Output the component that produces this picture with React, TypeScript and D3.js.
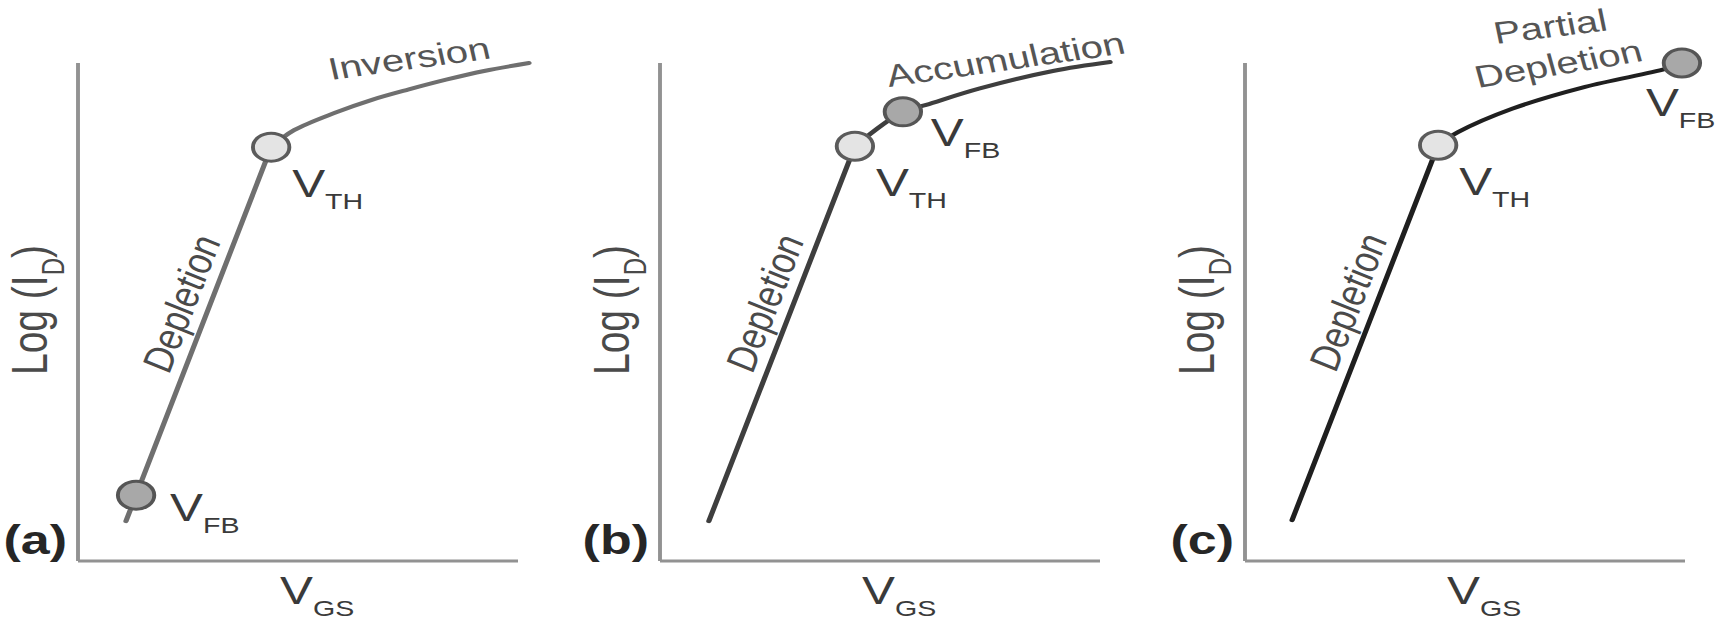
import React from 'react';
import * as d3 from 'd3';

// curve points in panel units: x = V_GS (0..100 along the axis), y = log(I_D) (0..100 up the axis)
const depletionA = [[10.9, 8.0], [43.9, 83.1]];
const inversionA = [[43.9, 83.1], [49.1, 86.5], [58.4, 90.0], [66.8, 92.6], [75.2, 94.7], [83.9, 96.7], [92.3, 98.4], [102.5, 100]];
const vthA = [43.9, 83.1];
const vfbA = [13.2, 13.2];

const depletionB = [[11.1, 8.0], [44.3, 83.3]];
const accumulationB = [[44.3, 83.3], [55.2, 90.2], [60.5, 91.6], [72.7, 94.9], [89.3, 98.4], [102.3, 100.2]];
const vthB = [44.3, 83.3];
const vfbB = [55.2, 90.2];

const depletionC = [[10.7, 8.2], [43.9, 83.5]];
const partialC = [[43.9, 83.5], [48.4, 86.1], [60.7, 90.8], [77.3, 95.2], [95.5, 98.8], [99.3, 100]];
const vthC = [43.9, 83.5];
const vfbC = [99.3, 100];

const panelTags = ['(a)', '(b)', '(c)'];
const regionLabels = [['Inversion'], ['Accumulation'], ['Partial', 'Depletion']];

const W = 1716;
const H = 619;
const SX = 1.3; // the source figure is stretched sideways
const AXIS_TOP = 63;
const AXIS_BOTTOM = 561;
const PANEL_W = 440;
const FONT = '"Liberation Sans", Arial, Helvetica, sans-serif';

const panels = [
  {
    ox: 78, depletion: depletionA, upper: inversionA, vth: vthA, vfb: vfbA,
    stroke: '#6f6f6f', vfbOff: [34, 25.5],
    region: [{ dx: 253, y: 80, a: -10 }],
  },
  {
    ox: 660, depletion: depletionB, upper: accumulationB, vth: vthB, vfb: vfbB,
    stroke: '#3e3e3e', vfbOff: [28, 34],
    region: [{ dx: 229, y: 87, a: -10.5 }],
  },
  {
    ox: 1245, depletion: depletionC, upper: partialC, vth: vthC, vfb: vfbC,
    stroke: '#1f1f1f', vfbOff: [-36, 53],
    region: [{ dx: 251, y: 44, a: -9 }, { dx: 233, y: 88, a: -12 }],
  },
];

const Sub = ({ main, sub, x, y }) => (
  <text x={x} y={y} fontSize={38} fill="#3a3a3a">
    {main}
    <tspan dy={12} fontSize={22}>{sub}</tspan>
  </text>
);

const Panel = ({ p, i }) => {
  const x = d3.scaleLinear().domain([0, 100]).range([0, PANEL_W / SX]);
  const y = d3.scaleLinear().domain([0, 100]).range([AXIS_BOTTOM, AXIS_TOP]);
  const straight = d3.line().x(d => x(d[0])).y(d => y(d[1]));
  const smooth = d3.line().x(d => x(d[0])).y(d => y(d[1])).curve(d3.curveCatmullRom.alpha(0.5));

  const [p0, p1] = p.depletion;
  const ang = Math.atan2(y(p1[1]) - y(p0[1]), x(p1[0]) - x(p0[0])) * 180 / Math.PI;
  const t = 0.565;
  const mx = x(p0[0]) + t * (x(p1[0]) - x(p0[0]));
  const my = y(p0[1]) + t * (y(p1[1]) - y(p0[1]));

  return (
    <g transform={`translate(${p.ox},0) scale(${SX},1)`} fontFamily={FONT}>
      {/* axes */}
      <line x1={0} y1={AXIS_TOP} x2={0} y2={AXIS_BOTTOM} stroke="#929292" strokeWidth={3} />
      <line x1={0} y1={AXIS_BOTTOM} x2={x(100)} y2={AXIS_BOTTOM} stroke="#929292" strokeWidth={3} />

      <text x={-11 / SX} y={554} fontSize={40} fontWeight="bold" fill="#262626" textAnchor="end">{panelTags[i]}</text>

      <text transform={`translate(${-31 / SX},${(AXIS_TOP + AXIS_BOTTOM) / 2 - 2}) rotate(-90)`} fontSize={39} fill="#4a4a4a" textAnchor="middle">
        Log (I<tspan dy={13} fontSize={24}>D</tspan><tspan dy={-13}>)</tspan>
      </text>

      <Sub main="V" sub="GS" x={202 / SX} y={604} />

      {/* curves */}
      <path d={straight(p.depletion)} fill="none" stroke={p.stroke} strokeWidth={4} strokeLinecap="round" />
      <path d={smooth(p.upper)} fill="none" stroke={p.stroke} strokeWidth={4} strokeLinecap="round" />

      <text transform={`translate(${mx},${my}) rotate(${ang})`} y={-10} fontSize={33} fontStyle="italic" fill="#4a4a4a" textAnchor="middle">Depletion</text>

      {regionLabels[i].map((s, k) => (
        <text key={s} transform={`translate(${p.region[k].dx / SX},${p.region[k].y}) rotate(${p.region[k].a})`} fontSize={31} fill="#555">{s}</text>
      ))}

      {/* markers */}
      <ellipse cx={x(p.vth[0])} cy={y(p.vth[1])} rx={14} ry={14} fill="#e4e4e4" stroke="#5b5b5b" strokeWidth={3} />
      <ellipse cx={x(p.vfb[0])} cy={y(p.vfb[1])} rx={14} ry={14} fill="#a8a8a8" stroke="#555" strokeWidth={3} />

      <Sub main="V" sub="TH" x={x(p.vth[0]) + 21 / SX} y={y(p.vth[1]) + 50} />
      <Sub main="V" sub="FB" x={x(p.vfb[0]) + p.vfbOff[0] / SX} y={y(p.vfb[1]) + p.vfbOff[1]} />
    </g>
  );
};

export default function App() {
  return (
    <svg width={W} height={H} style={{ position: 'absolute', left: 0, top: 0, background: '#fff' }}>
      {panels.map((p, i) => <Panel key={i} p={p} i={i} />)}
    </svg>
  );
}
